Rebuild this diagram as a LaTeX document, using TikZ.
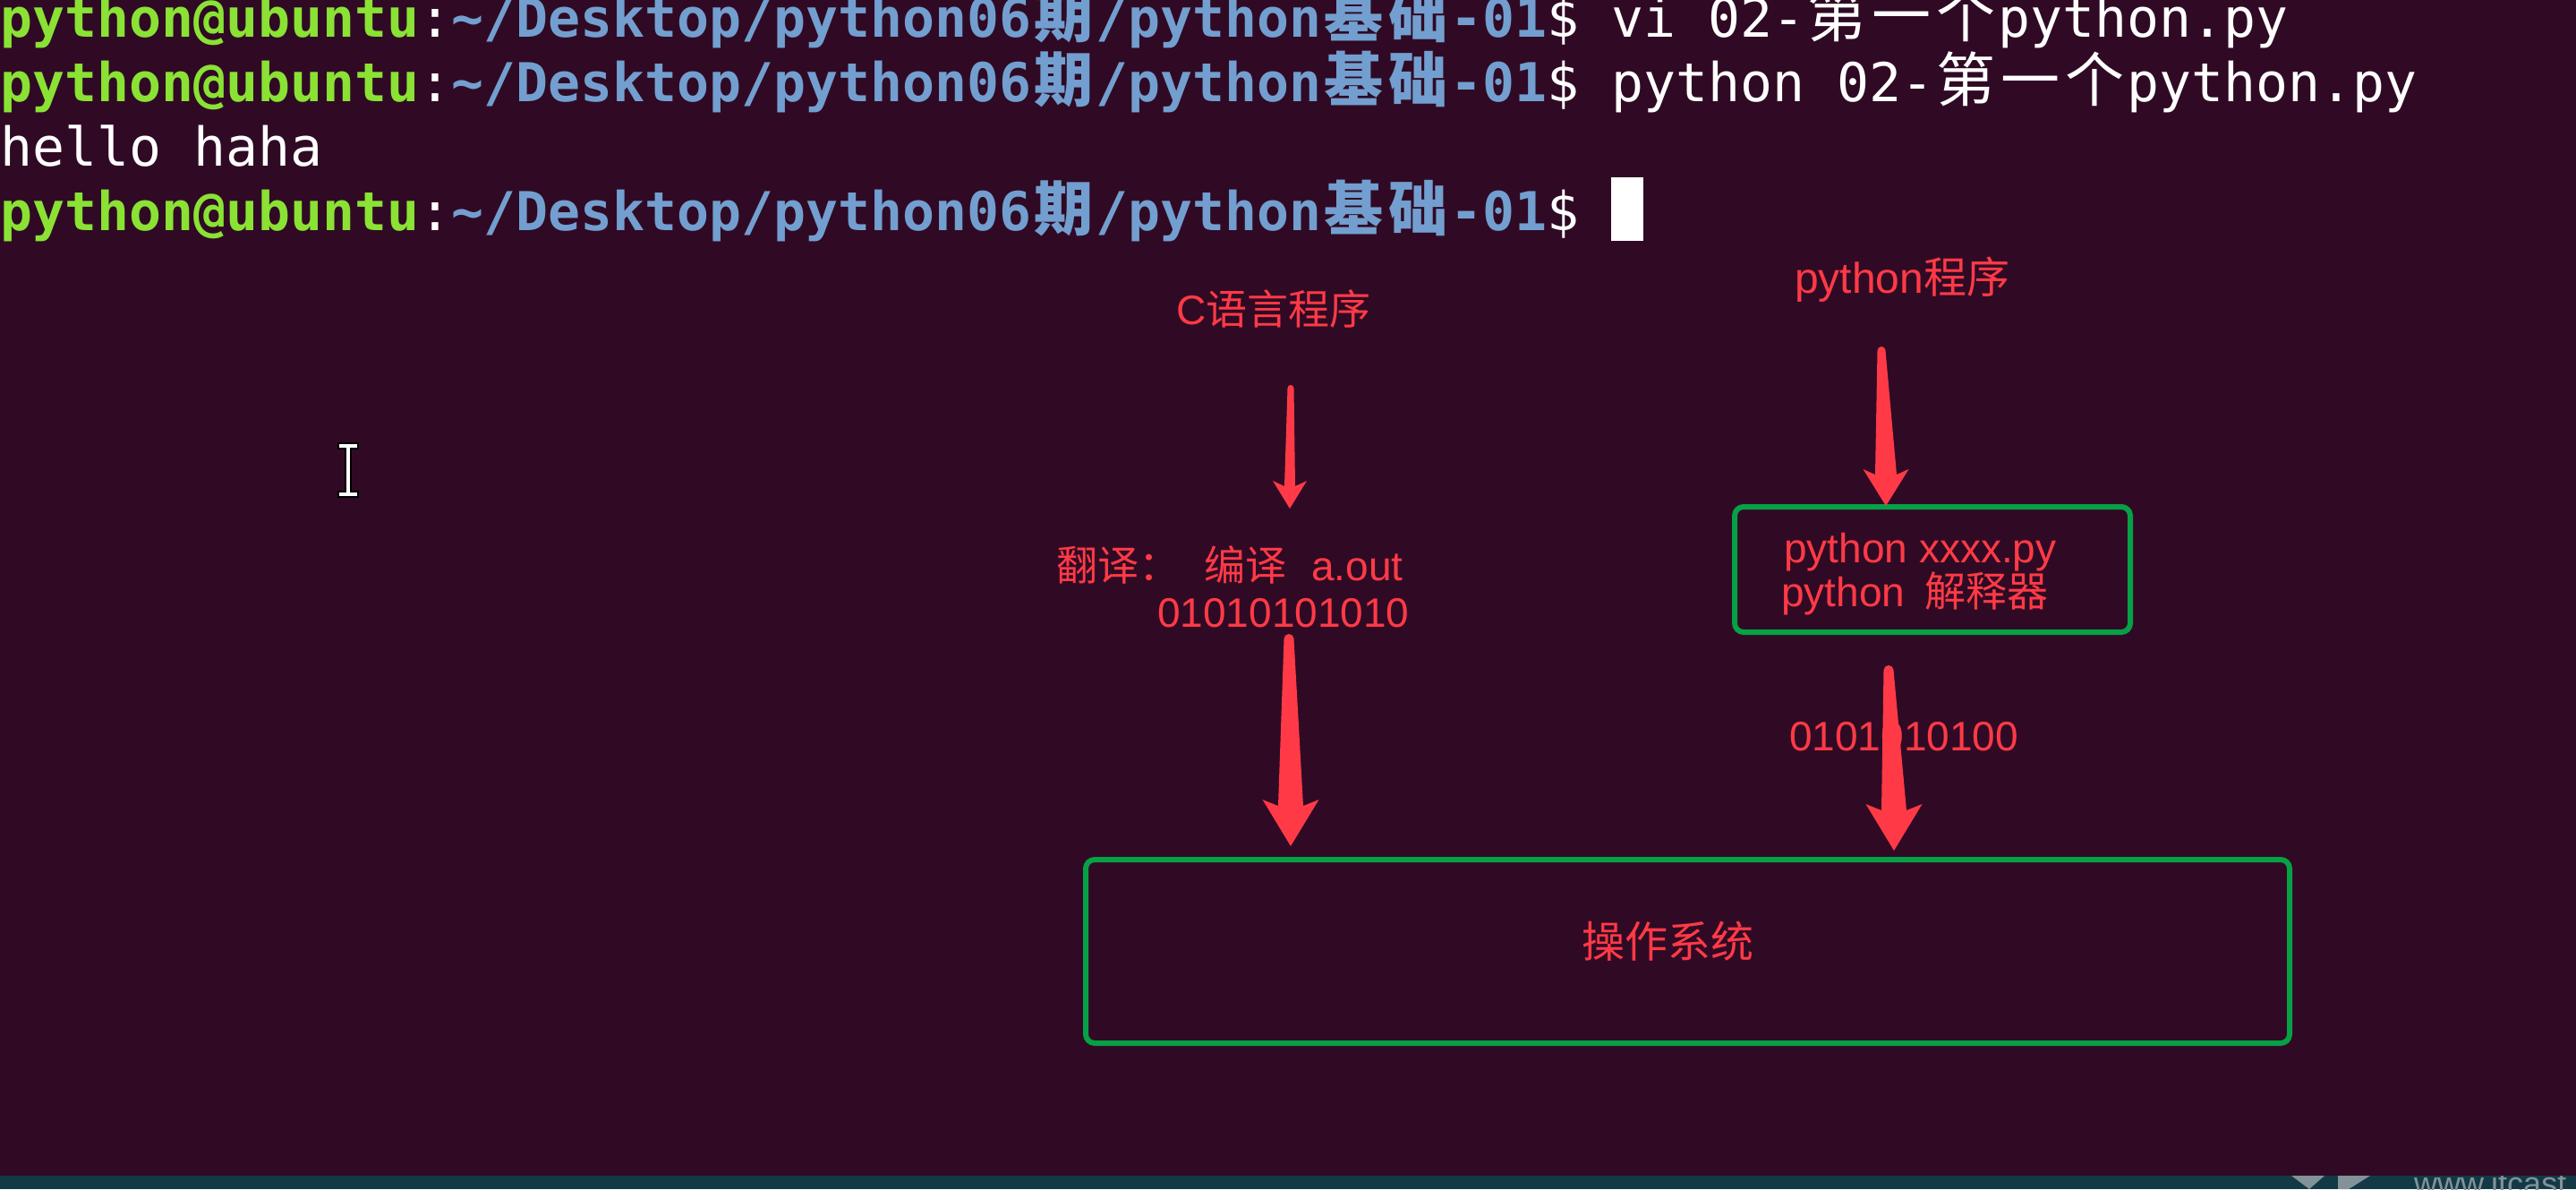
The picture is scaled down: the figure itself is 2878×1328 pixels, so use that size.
\documentclass[tikz,border=0pt]{standalone}
\usepackage{fontspec}
\setmainfont{Liberation Sans}
\newfontfamily\term{DejaVu Sans Mono}
\newfontfamily\cjk{Noto Sans CJK SC}
\usetikzlibrary{calc}
\definecolor{termbg}{RGB}{48,10,36}
\definecolor{tgreen}{RGB}{138,226,52}
\definecolor{tblue}{RGB}{114,159,207}
\definecolor{annred}{RGB}{255,58,70}
\definecolor{anngreen}{RGB}{6,160,70}
\definecolor{barteal}{RGB}{19,57,71}
\definecolor{wmgrey}{RGB}{130,146,152}
% a CJK character filling two terminal cells
\newcommand\tc[1]{\makebox[72pt][c]{\cjk\fontsize{66}{72}\selectfont #1}}
% tapered annotation arrow: start, tip, w0, w1, head width, head length, notch
\newcommand\taperarrow[7]{%
  \fill[annred] let \p1=(#1), \p2=(#2) in
    (\x1+#3/2,\y1) arc[start angle=0,end angle=180,radius=#3/2]
    -- (\x2-#4/2,\y2+#6-#7) -- (\x2-#5/2,\y2+#6) -- (\x2,\y2)
    -- (\x2+#5/2,\y2+#6) -- (\x2+#4/2,\y2+#6-#7) -- cycle;}
\begin{document}
\begin{tikzpicture}[x=1pt,y=-1pt,
  termline/.style={anchor=base west, inner sep=0pt, text=white,
    font=\term\fontsize{59.8}{72}\selectfont},
  lbl/.style={anchor=base west, inner sep=0pt, text=annred,
    font=\fontsize{46}{52}\selectfont},
  gbox/.style={draw=anngreen, line width=6pt, rounded corners=10pt, inner sep=0pt}]
\useasboundingbox (0,0) rectangle (2878,1328);
\fill[termbg] (0,0) rectangle (2878,1328);
\fill[barteal] (0,1313) rectangle (2878,1328);
\begin{scope}
  \clip (0,1313) rectangle (2878,1328);
  \fill[wmgrey] (2560,1313) -- (2597,1313) -- (2580,1328) -- cycle;
  \fill[wmgrey] (2612,1313) -- (2648,1313) -- (2624,1328) -- (2612,1328) -- cycle;
  \node[anchor=base west, inner sep=0pt, text=wmgrey, font=\fontsize{36}{40}\selectfont]
    (wm) at (2697,1334) {www.itcast.cn};
\end{scope}
% terminal lines
\node[termline] (l1) at (0,41) {{\bfseries\color{tgreen}python@ubuntu}:{\bfseries\color{tblue}\textasciitilde/Desktop/python06\tc{期}/python\tc{基}\tc{础}-01}\$ vi 02-\tc{第}\tc{一}\tc{个}python.py};
\node[termline] (l2) at (0,113) {{\bfseries\color{tgreen}python@ubuntu}:{\bfseries\color{tblue}\textasciitilde/Desktop/python06\tc{期}/python\tc{基}\tc{础}-01}\$ python 02-\tc{第}\tc{一}\tc{个}python.py};
\node[termline] (l3) at (0,185) {hello haha};
\node[termline] (l4) at (0,257) {{\bfseries\color{tgreen}python@ubuntu}:{\bfseries\color{tblue}\textasciitilde/Desktop/python06\tc{期}/python\tc{基}\tc{础}-01}\$};
\fill[white] (1800,198) rectangle (1836,269);
% mouse I-beam
\draw[black, line width=8pt] (377,498) -- (401,498) (389,498) -- (389,552) (377,552) -- (401,552);
\draw[white, line width=4pt] (379,498) -- (399,498) (389,498) -- (389,552) (379,552) -- (399,552);
% boxes
\node[gbox, minimum width=442pt, minimum height=140pt] (interp) at (2159,636) {};
\node[gbox, minimum width=1345pt, minimum height=205pt] (os) at (1885.5,1062.5) {};
% labels
\node[lbl] (cprog) at (1314,362) {C{\cjk 语言程序}};
\node[lbl] (trans) at (1180,648) {{\cjk 翻译：}\hspace{27pt}{\cjk 编译}\hspace{28pt}a.out};
\node[lbl] (bin1) at (1293,700) {01010101010};
\node[lbl, font=\fontsize{48}{52}\selectfont] (pyprog) at (2005,327) {python{\cjk 程序}};
\node[lbl] (interp1) at (1993,628) {python xxxx.py};
\node[lbl] (interp2) at (1990,677) {python \hspace{9pt}{\cjk 解释器}};
\node[lbl] (bin2) at (1999,838) {0101010100};
\node[lbl, font=\fontsize{48}{52}\selectfont] (oslabel) at (1767,1069) {\cjk 操作系统};
% arrows
\coordinate (a1s) at (1442,433.5); \coordinate (a1e) at (1441,568);
\coordinate (a2s) at (1440,713.5); \coordinate (a2e) at (1442,945);
\coordinate (a3s) at (2102,391.5); \coordinate (a3e) at (2107,565);
\coordinate (a4s) at (2110,748.5); \coordinate (a4e) at (2116,950);
\taperarrow{a1s}{a1e}{7pt}{12pt}{38pt}{31pt}{6pt}
\taperarrow{a2s}{a2e}{11pt}{28pt}{63pt}{52pt}{7pt}
\taperarrow{a3s}{a3e}{9pt}{24pt}{51pt}{41pt}{6pt}
\taperarrow{a4s}{a4e}{11pt}{28pt}{63pt}{52pt}{7pt}
\end{tikzpicture}
\end{document}
